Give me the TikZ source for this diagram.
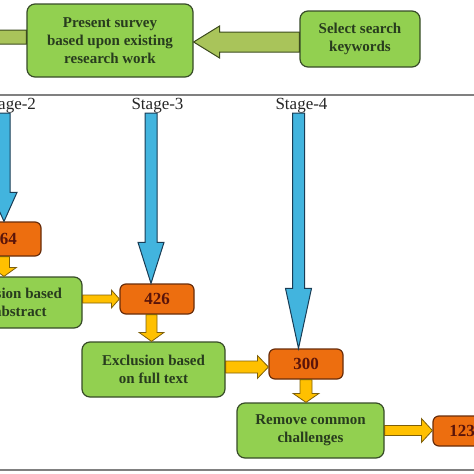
\documentclass[tikz,border=0pt]{standalone}
\usepackage{fontspec}
\setmainfont{Liberation Serif}
\usepackage{tikz}
\usetikzlibrary{positioning,calc}
\definecolor{boxgreen}{RGB}{146,208,80}
\definecolor{boxline}{RGB}{55,75,40}
\definecolor{greentext}{RGB}{40,60,30}
\definecolor{myorange}{RGB}{237,110,15}
\definecolor{orangeline}{RGB}{105,45,10}
\definecolor{orangetext}{RGB}{90,20,10}
\definecolor{myblue}{RGB}{66,180,222}
\definecolor{blueline}{RGB}{25,60,85}
\definecolor{myyellow}{RGB}{255,192,0}
\definecolor{yellowline}{RGB}{125,95,10}
\definecolor{arrowgreen}{RGB}{169,196,90}
\definecolor{arrowline}{RGB}{60,75,30}
\definecolor{framegray}{RGB}{128,128,128}
\tikzstyle{mynode}=[align=center, line width=1.2pt, inner sep=0pt]
\tikzstyle{task}=[mynode, rounded corners=8pt, fill=boxgreen, draw=boxline, text=greentext, font=\fontsize{15}{18}\selectfont\bfseries]
\tikzstyle{count}=[mynode, rounded corners=6pt, fill=myorange, draw=orangeline, text=orangetext, minimum width=74pt, minimum height=30pt, font=\fontsize{17}{20}\selectfont\bfseries]
\tikzstyle{stage}=[inner sep=0pt, anchor=south, text=black!85, font=\fontsize{17}{20}\selectfont]
\tikzstyle{frame}=[line width=2pt, framegray]
\tikzset{block arrow/.style n args={3}{to path={
  let \p1=(\tikztostart), \p2=(\tikztotarget), \p3=($(\p2)!#3!(\p1)$) in
  ($(\p1)!#1!90:(\p2)$) -- ($(\p3)!#1!-90:(\p1)$) -- ($(\p3)!#2!-90:(\p1)$) -- (\p2)
  -- ($(\p3)!#2!90:(\p1)$) -- ($(\p3)!#1!90:(\p1)$) -- ($(\p1)!#1!-90:(\p2)$) -- cycle}}}
\tikzstyle{green arrow}=[fill=arrowgreen, draw=arrowline, line width=1pt]
\tikzstyle{blue arrow}=[fill=myblue, draw=blueline, line width=1pt]
\tikzstyle{yellow arrow}=[fill=myyellow, draw=yellowline, line width=0.8pt]

\begin{document}
\begin{tikzpicture}[x=1pt, y=-1pt]
\useasboundingbox (0,0) rectangle (474,474);
\clip (0,0) rectangle (474,474);

\draw[frame] (-20,95) rectangle (500,470);

% top row
\node[task, minimum width=166pt, minimum height=73pt] (present) at (110,40.5) {Present survey\\based upon existing\\research work};
\node[task, minimum width=120pt, minimum height=56pt] (keywords) at (360,39) {Select search\\keywords};
\coordinate (out) at (-60,37);

% stages
\node[stage] (s2) at (10,113) {Stage-2};
\node[stage] (s3) at (157.5,113) {Stage-3};
\node[stage] (s4) at (301.5,113) {Stage-4};

\node[count, minimum height=34pt] (n264) at (4,239) {264};
\node[task, minimum width=143pt, minimum height=51pt] (abstract) at (10.5,302.5) {Exclusion based\\on abstract};
\node[count] (n426) at (157,299) {426};
\node[task, minimum width=143pt, minimum height=55pt] (fulltext) at (153.5,369.5) {Exclusion based\\on full text};
\node[count] (n300) at (306,364) {300};
\node[task, minimum width=147pt, minimum height=55pt] (remove) at (310.5,430.5) {Remove common\\challenges};
\node[count, minimum width=58pt] (n123) at (462,431) {123};

\begin{scope}
    \draw[green arrow, block arrow={10pt}{16pt}{26pt}] ([yshift=-3pt]keywords.west) to ([yshift=-1.5pt]present.east);
    \draw[green arrow, block arrow={7pt}{14pt}{20pt}] ([yshift=3.5pt]present.west) to (out);

    \draw[blue arrow, block arrow={6pt}{13pt}{29pt}] (s2.south -| n264.north) to (n264.north);
    \draw[blue arrow, block arrow={6pt}{13pt}{41pt}] ([xshift=-6.5pt]s3.south) to ([xshift=-6.5pt]s3.south |- n426.north);
    \draw[blue arrow, block arrow={6pt}{13pt}{60pt}] ([xshift=-3pt]s4.south) to ([xshift=-3pt]s4.south |- n300.north);

    \draw[yellow arrow, block arrow={5.5pt}{12.5pt}{9pt}] (n264.south) to (n264.south |- abstract.north);
    \draw[yellow arrow, block arrow={4pt}{9pt}{8pt}] (abstract.east |- n426.west) to (n426.west);
    \draw[yellow arrow, block arrow={5.5pt}{12.5pt}{9pt}] ([xshift=-5.5pt]n426.south) to ([xshift=-5.5pt]n426.south |- fulltext.north);
    \draw[yellow arrow, block arrow={6pt}{11.5pt}{11pt}] ([yshift=2.5pt]fulltext.east) to ([yshift=2.5pt]fulltext.east -| n300.west);
    \draw[yellow arrow, block arrow={6pt}{13pt}{9pt}] (n300.south) to (n300.south |- remove.north);
    \draw[yellow arrow, block arrow={5pt}{12pt}{11pt}] (remove.east) to (remove.east -| n123.west);
\end{scope}

\end{tikzpicture}
\end{document}
